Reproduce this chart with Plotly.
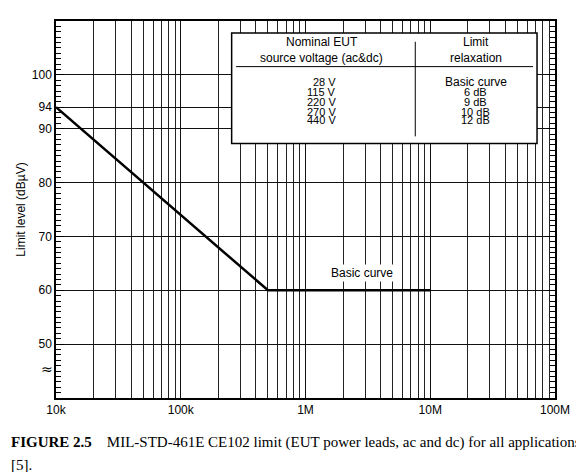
import plotly.graph_objects as go

freq = [1e4, 5e5, 1e7]
limit = [94, 60, 60]
ytick_vals = [50, 60, 70, 80, 90, 94, 100]
xtick_vals = [1e4, 1e5, 1e6, 1e7, 1e8]
xtick_text = ["10k", "100k", "1M", "10M", "100M"]
voltages = ["28 V", "115 V", "220 V", "270 V", "440 V"]
relax = ["Basic curve", "6 dB", "9 dB", "10 dB", "12 dB"]

fig = go.Figure()
fig.add_trace(go.Scatter(x=freq, y=limit, mode="lines",
                         line=dict(color="black", width=2.5), showlegend=False))

fig.update_xaxes(type="log", range=[4, 8], tickvals=xtick_vals, ticktext=xtick_text,
                 showgrid=True, gridcolor="#111", gridwidth=1.4,
                 minor=dict(dtick="D1", showgrid=True, gridcolor="#222", gridwidth=1.3),
                 showline=True, linecolor="black", linewidth=1.5, mirror=True,
                 ticks="", tickfont=dict(family="Liberation Sans", size=12, color="black"),
                 zeroline=False)
fig.update_yaxes(range=[40, 110], tickvals=ytick_vals, showgrid=True,
                 gridcolor="#111", gridwidth=1.3,
                 minor=dict(dtick=1, ticks="inside", ticklen=5, tickcolor="black", showgrid=False),
                 ticks="inside", ticklen=8, tickcolor="black",
                 showline=True, linecolor="black", linewidth=1.5, mirror="allticks",
                 title=dict(text="Limit level (dBµV)", standoff=4,
                            font=dict(family="Liberation Sans", size=12, color="black")),
                 tickfont=dict(family="Liberation Sans", size=12, color="black"),
                 zeroline=False)

# table box
fig.add_shape(type="rect", xref="paper", yref="paper", x0=0.352, x1=0.964, y0=0.675, y1=0.968,
              line=dict(color="black", width=1.5), fillcolor="white", layer="above")
fig.add_shape(type="line", xref="paper", yref="paper", x0=0.720, x1=0.720, y0=0.694, y1=0.945,
              line=dict(color="black", width=1), layer="above")
fig.add_shape(type="line", xref="paper", yref="paper", x0=0.361, x1=0.956, y0=0.879, y1=0.879,
              line=dict(color="black", width=1), layer="above")

f = dict(family="Liberation Sans", size=12, color="black")
fs = dict(family="Liberation Sans", size=11, color="black")
def ann(text, x, ypx, xanchor="center", font=f):
    fig.add_annotation(text=text, xref="paper", yref="paper", x=x, y=(398 - ypx) / 379,
                       xanchor=xanchor, yanchor="middle", showarrow=False, font=font)

ann("Nominal EUT", 0.533, 40)
ann("source voltage (ac&dc)", 0.533, 56)
ann("Limit", 0.841, 40)
ann("relaxation", 0.841, 56)
ypos = [80, 90, 100, 110, 119]
for v, r, yp in zip(voltages, relax, ypos):
    ann(v, 0.565, yp, "right", fs)
    ann(r, 0.841, yp, "center", f if r == "Basic curve" else fs)

fig.add_annotation(text="Basic curve", x=6.45, y=63.2, xref="x", yref="y",
                   showarrow=False, font=f, bgcolor="white")
fig.add_annotation(text="≈", xref="paper", yref="paper", x=-0.035, y=0.05,
                   showarrow=False, font=dict(family="DejaVu Sans", size=14, color="black"))

cap = dict(family="Liberation Serif", size=15, color="black")
fig.add_annotation(text="<b>FIGURE 2.5</b>    MIL-STD-461E CE102 limit (EUT power leads, ac and dc) for all applications",
                   xref="paper", yref="paper", x=-0.094, y=-0.145, xanchor="left",
                   showarrow=False, font=cap)
fig.add_annotation(text="[5].", xref="paper", yref="paper", x=-0.094, y=-0.205, xanchor="left",
                   showarrow=False, font=cap)

fig.update_layout(width=576, height=464, margin=dict(l=44, r=29, t=11, b=74),
                  plot_bgcolor="white", paper_bgcolor="white")
fig.write_html("out.html")
